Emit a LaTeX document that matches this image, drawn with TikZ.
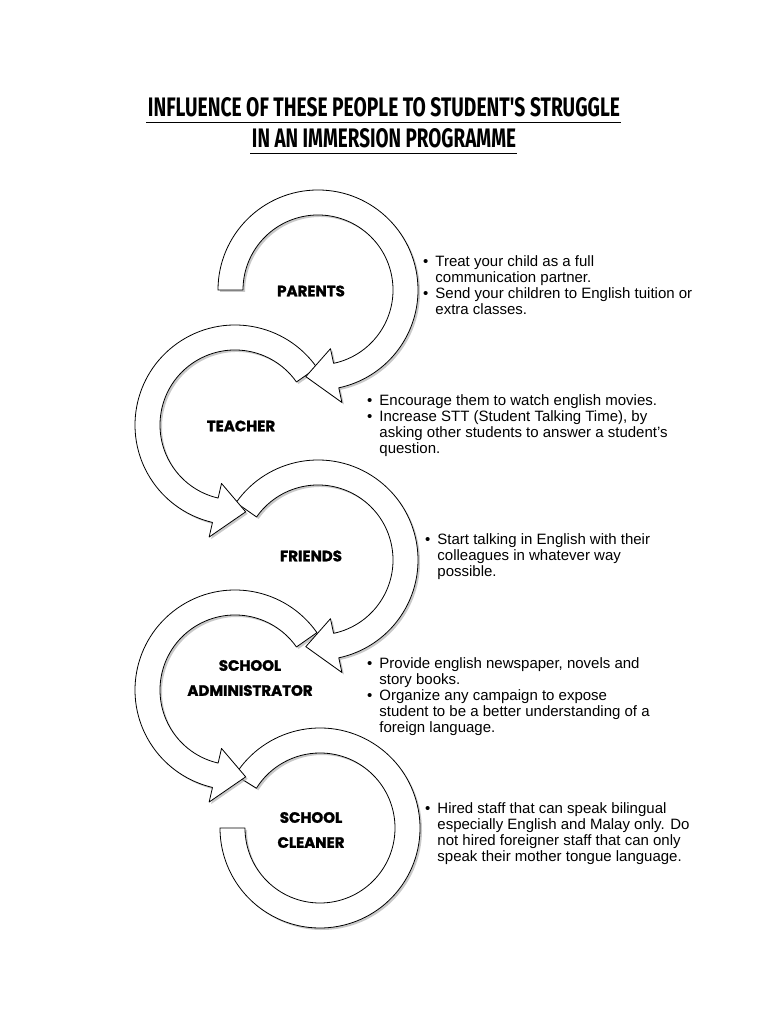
\documentclass[tikz,border=0pt]{standalone}
\usepackage{fontspec}
\setmainfont{Liberation Sans}
\newfontfamily\labfont[FakeBold=1.5]{Poppins}
\newfontfamily\titfont{Fira Sans}
\usetikzlibrary{shadows}
\newcommand{\carrow}[6]{% cx cy a1 a2 tip headflag
  \path[arrowband, shift={(#1,#2)}]
   (#3:100) arc[start angle=#3,end angle=#4,radius=100]
   \ifnum#6=1 -- (#4:115) -- (#5:87.5) -- (#4:60) \fi
   -- (#4:75) arc[start angle=#4,end angle=#3,radius=75] -- cycle;}
\begin{document}
\begin{tikzpicture}[x=1pt,y=1pt,
  arrowband/.style={draw=black,line width=0.8pt,fill=white,line join=round,
     drop shadow={shadow xshift=2pt,shadow yshift=-2pt,fill=black!35,opacity=0.6}},
  lab/.style={font=\labfont\bfseries\fontsize{15}{25}\selectfont,align=center},
  txt/.style={font=\fontsize{15}{16}\selectfont,anchor=north west,inner sep=0pt}]
\path[fill=white] (0,0) rectangle (768,1024);
% title
\node (t1) at (384,1024-107) {\titfont\resizebox{472pt}{19pt}{\bfseries INFLUENCE OF THESE PEOPLE TO STUDENT'S STRUGGLE}};
\node (t2) at (384,1024-138) {\titfont\resizebox{264pt}{19pt}{\bfseries IN AN IMMERSION PROGRAMME}};
\draw[line width=0.8pt] (146,1024-122) -- (621,1024-122);
\draw[line width=0.8pt] (250,1024-153) -- (517,1024-153);
% arrows (later first)
\carrow{320}{196}{148}{-180}{0}{0}
\carrow{235}{334}{35}{257}{277}{1}
\carrow{318}{464}{145}{-78}{-98}{1}
\carrow{235}{599}{35}{257}{277}{1}
\carrow{318}{734}{180}{-78}{-98}{1}
% labels
\node[lab] (p) at (311,1024-291) {PARENTS};
\node[lab] (t) at (241,1024-426) {TEACHER};
\node[lab] (f) at (311,1024-556) {FRIENDS};
\node[lab] (a) at (250,1024-678) {SCHOOL\\ADMINISTRATOR};
\node[lab] (c) at (311,1024-830) {SCHOOL\\CLEANER};
% texts
\node[txt] (pt) at (423,1024-255) {\begin{tabular}{@{}l@{\hspace{7pt}}l@{}}
•&Treat your child as a full\\ &communication partner.\\
•&Send your children to English tuition or\\ &extra classes.\end{tabular}};
\node[txt] (tt) at (367,1024-394) {\begin{tabular}{@{}l@{\hspace{7pt}}l@{}}
•&Encourage them to watch english movies.\\
•&Increase STT (Student Talking Time), by\\ &asking other students to answer a student's\\ &question.\end{tabular}};
\node[txt] (ft) at (425,1024-533) {\begin{tabular}{@{}l@{\hspace{7pt}}l@{}}
•&Start talking in English with their\\ &colleagues in whatever way\\ &possible.\end{tabular}};
\node[txt] (at) at (367,1024-657) {\begin{tabular}{@{}l@{\hspace{7pt}}l@{}}
•&Provide english newspaper, novels and\\ &story books.\\
•&Organize any campaign to expose\\ &student to be a better understanding of a\\ &foreign language.\end{tabular}};
\node[txt] (ct) at (425,1024-802) {\begin{tabular}{@{}l@{\hspace{7pt}}l@{}}
•&Hired staff that can speak bilingual\\ &especially English and Malay only. Do\\ &not hired foreigner staff that can only\\ &speak their mother tongue language.\end{tabular}};
\end{tikzpicture}
\end{document}
